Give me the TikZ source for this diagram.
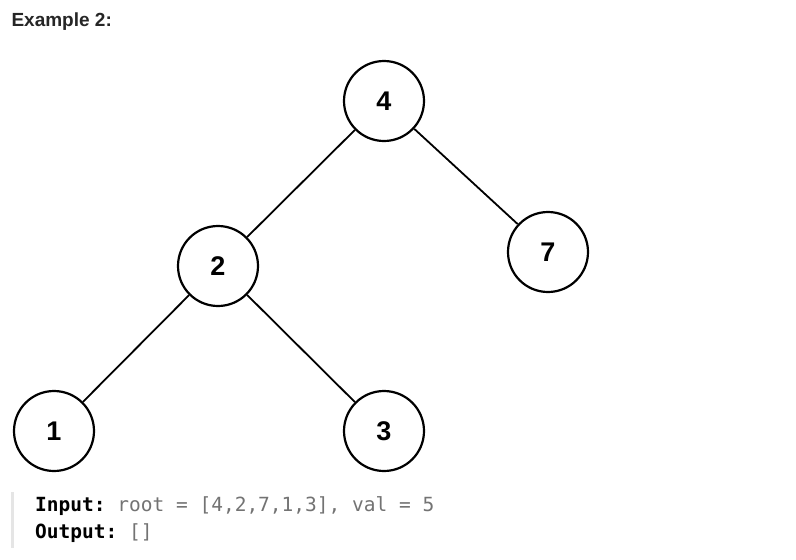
\documentclass[tikz,border=0pt]{standalone}
\usepackage{fontspec}
\setmainfont{Liberation Sans}
\setmonofont{DejaVu Sans Mono}
\begin{document}
\begin{tikzpicture}[x=1pt,y=-1pt,
  tn/.style={circle,draw,line width=2.2pt,minimum size=80pt,inner sep=0pt,font=\fontsize{27}{29}\selectfont\bfseries},
  ed/.style={line width=1.8pt}]
\useasboundingbox (0,0) rectangle (796,560);
\fill[white] (0,0) rectangle (796,560);
\node[anchor=west,font=\fontsize{19}{21}\selectfont\bfseries,text=black!85] (title) at (8,22) {Example 2:};
\node[tn] (n4) at (384,101) {4};
\node[tn] (n2) at (218,266) {2};
\node[tn] (n7) at (548,252) {7};
\node[tn] (n1) at (54,431) {1};
\node[tn] (n3) at (384,431) {3};
\draw[ed] (n4)--(n2); \draw[ed] (n4)--(n7);
\draw[ed] (n2)--(n1); \draw[ed] (n2)--(n3);
\fill[black!10] (11,492) rectangle (14,548);
\node[anchor=west,inner sep=0pt,font=\fontsize{19.5}{21}\selectfont\ttfamily] (inp) at (35,506) {\textbf{Input:} \textcolor{black!55}{root = [4,2,7,1,3], val = 5}};
\node[anchor=west,inner sep=0pt,font=\fontsize{19.5}{21}\selectfont\ttfamily] (out) at (35,533) {\textbf{Output:} \textcolor{black!55}{[]}};
\end{tikzpicture}
\end{document}
